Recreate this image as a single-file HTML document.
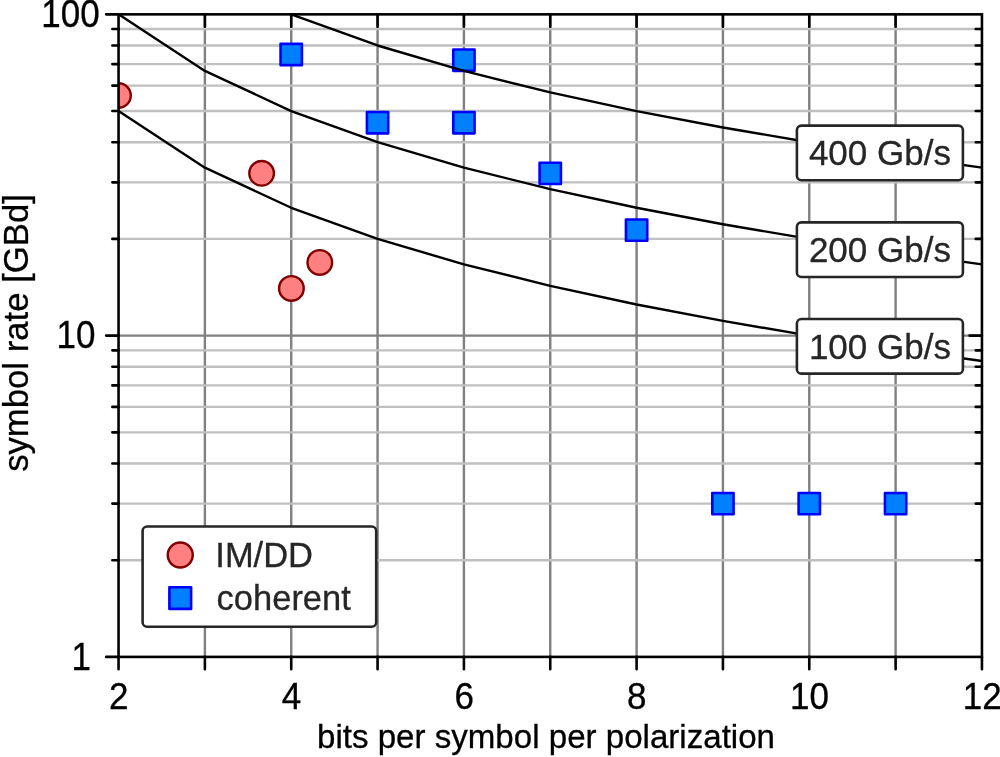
<!DOCTYPE html>
<html><head><meta charset="utf-8"><title>chart</title><style>html,body{margin:0;padding:0;background:#fff}svg{display:block}</style></head><body>
<svg width="1000" height="757" viewBox="0 0 1000 757" font-family="Liberation Sans, Arial, sans-serif">
<rect width="1000" height="757" fill="#fff"/>
<path d="M204.89 14.35V656.9M291.23 14.35V656.9M377.57 14.35V656.9M463.91 14.35V656.9M550.25 14.35V656.9M636.59 14.35V656.9M722.93 14.35V656.9M809.27 14.35V656.9M895.61 14.35V656.9M118.55 335.62H981.95" stroke="#808080" stroke-width="2.4" fill="none"/>
<path d="M118.55 560.19H981.95M118.55 503.61H981.95M118.55 463.47H981.95M118.55 432.34H981.95M118.55 406.90H981.95M118.55 385.39H981.95M118.55 366.76H981.95M118.55 350.33H981.95M118.55 238.91H981.95M118.55 182.34H981.95M118.55 142.20H981.95M118.55 111.06H981.95M118.55 85.62H981.95M118.55 64.12H981.95M118.55 45.48H981.95M118.55 29.05H981.95" stroke="#c0c0c0" stroke-width="2.4" fill="none"/>
<clipPath id="c"><rect x="118.55" y="14.35" width="863.4000000000001" height="642.55"/></clipPath>
<g clip-path="url(#c)">
<circle cx="118.50" cy="95.50" r="12.3" fill="#ff8080" stroke="#800000" stroke-width="2.4"/>
<circle cx="261.60" cy="173.30" r="12.3" fill="#ff8080" stroke="#800000" stroke-width="2.4"/>
<circle cx="291.40" cy="288.40" r="12.3" fill="#ff8080" stroke="#800000" stroke-width="2.4"/>
<circle cx="319.80" cy="262.40" r="12.3" fill="#ff8080" stroke="#800000" stroke-width="2.4"/>
</g>
<rect x="280.58" y="43.84" width="21.3" height="21.3" fill="#0080ff" stroke="#0000ff" stroke-width="2.6" stroke-linejoin="round"/>
<rect x="366.92" y="112.05" width="21.3" height="21.3" fill="#0080ff" stroke="#0000ff" stroke-width="2.6" stroke-linejoin="round"/>
<rect x="453.26" y="49.54" width="21.3" height="21.3" fill="#0080ff" stroke="#0000ff" stroke-width="2.6" stroke-linejoin="round"/>
<rect x="453.26" y="112.05" width="21.3" height="21.3" fill="#0080ff" stroke="#0000ff" stroke-width="2.6" stroke-linejoin="round"/>
<rect x="539.60" y="162.68" width="21.3" height="21.3" fill="#0080ff" stroke="#0000ff" stroke-width="2.6" stroke-linejoin="round"/>
<rect x="625.94" y="219.47" width="21.3" height="21.3" fill="#0080ff" stroke="#0000ff" stroke-width="2.6" stroke-linejoin="round"/>
<rect x="712.28" y="492.96" width="21.3" height="21.3" fill="#0080ff" stroke="#0000ff" stroke-width="2.6" stroke-linejoin="round"/>
<rect x="798.62" y="492.96" width="21.3" height="21.3" fill="#0080ff" stroke="#0000ff" stroke-width="2.6" stroke-linejoin="round"/>
<rect x="884.96" y="492.96" width="21.3" height="21.3" fill="#0080ff" stroke="#0000ff" stroke-width="2.6" stroke-linejoin="round"/>
<polyline points="118.55,111.06 204.89,167.64 291.23,207.78 377.57,238.91 463.91,264.35 550.25,285.86 636.59,304.49 722.93,320.92 809.27,335.62 895.61,348.92 981.95,361.06" stroke="#000" stroke-width="2.4" fill="none" stroke-linejoin="round"/>
<polyline points="118.55,14.35 204.89,70.92 291.23,111.06 377.57,142.20 463.91,167.64 550.25,189.15 636.59,207.78 722.93,224.21 809.27,238.91 895.61,252.21 981.95,264.35" stroke="#000" stroke-width="2.4" fill="none" stroke-linejoin="round"/>
<polyline points="291.23,14.35 377.57,45.48 463.91,70.92 550.25,92.43 636.59,111.06 722.93,127.50 809.27,142.20 895.61,155.50 981.95,167.64" stroke="#000" stroke-width="2.4" fill="none" stroke-linejoin="round"/>
<path d="M118.55 656.9v12.4M204.89 656.9v12.4M204.89 14.35v12.4M291.23 656.9v12.4M291.23 14.35v12.4M377.57 656.9v12.4M377.57 14.35v12.4M463.91 656.9v12.4M463.91 14.35v12.4M550.25 656.9v12.4M550.25 14.35v12.4M636.59 656.9v12.4M636.59 14.35v12.4M722.93 656.9v12.4M722.93 14.35v12.4M809.27 656.9v12.4M809.27 14.35v12.4M895.61 656.9v12.4M895.61 14.35v12.4M981.95 656.9v12.4M118.55 656.90h-12.4M118.55 335.62h-12.4M118.55 14.35h-12.4M118.55 560.19h-6.2M981.95 560.19h-6.2M118.55 503.61h-6.2M981.95 503.61h-6.2M118.55 463.47h-6.2M981.95 463.47h-6.2M118.55 432.34h-6.2M981.95 432.34h-6.2M118.55 406.90h-6.2M981.95 406.90h-6.2M118.55 385.39h-6.2M981.95 385.39h-6.2M118.55 366.76h-6.2M981.95 366.76h-6.2M118.55 350.33h-6.2M981.95 350.33h-6.2M118.55 238.91h-6.2M981.95 238.91h-6.2M118.55 182.34h-6.2M981.95 182.34h-6.2M118.55 142.20h-6.2M981.95 142.20h-6.2M118.55 111.06h-6.2M981.95 111.06h-6.2M118.55 85.62h-6.2M981.95 85.62h-6.2M118.55 64.12h-6.2M981.95 64.12h-6.2M118.55 45.48h-6.2M981.95 45.48h-6.2M118.55 29.05h-6.2M981.95 29.05h-6.2M981.95 335.62h-12.4" stroke="#000" stroke-width="2.6" stroke-linecap="round" fill="none"/>
<rect x="118.55" y="14.35" width="863.40" height="642.55" fill="none" stroke="#000" stroke-width="2.6"/>
<text transform="translate(118.75,708.60) scale(1,1.08)" font-size="35" text-anchor="middle" fill="#000" stroke="#000" stroke-width="0.3">2</text>
<text transform="translate(291.43,708.60) scale(1,1.08)" font-size="35" text-anchor="middle" fill="#000" stroke="#000" stroke-width="0.3">4</text>
<text transform="translate(464.11,708.60) scale(1,1.08)" font-size="35" text-anchor="middle" fill="#000" stroke="#000" stroke-width="0.3">6</text>
<text transform="translate(636.79,708.60) scale(1,1.08)" font-size="35" text-anchor="middle" fill="#000" stroke="#000" stroke-width="0.3">8</text>
<text transform="translate(809.47,708.60) scale(1,1.08)" font-size="35" text-anchor="middle" fill="#000" stroke="#000" stroke-width="0.3">10</text>
<text transform="translate(982.15,708.60) scale(1,1.08)" font-size="35" text-anchor="middle" fill="#000" stroke="#000" stroke-width="0.3">12</text>
<text transform="translate(71.50,669.60) scale(1,1.085)" font-size="35" fill="#000" stroke="#000" stroke-width="0.3">1</text>
<text transform="translate(56.50,348.32) scale(1,1.085)" font-size="35" fill="#000" stroke="#000" stroke-width="0.3">10</text>
<text transform="translate(41.30,27.05) scale(1,1.085)" font-size="35" fill="#000" stroke="#000" stroke-width="0.3">100</text>
<text transform="translate(546.00,747.60) scale(1,0.985)" font-size="33.1" text-anchor="middle" fill="#000" stroke="#000" stroke-width="0.3">bits per symbol per polarization</text>
<text transform="translate(28.00,333.00) rotate(-90) scale(1,0.985)" font-size="34.7" text-anchor="middle" fill="#000" stroke="#000" stroke-width="0.3">symbol rate [GBd]</text>
<rect x="796.9" y="125.62" width="166.0" height="54.6" rx="4.5" fill="#fff" stroke="#262626" stroke-width="2.6"/>
<text transform="translate(879.90,165.42) scale(1,1.02)" font-size="35" text-anchor="middle" fill="#262626" stroke="#262626" stroke-width="0.3">400 Gb/s</text>
<rect x="796.9" y="222.33" width="166.0" height="54.6" rx="4.5" fill="#fff" stroke="#262626" stroke-width="2.6"/>
<text transform="translate(879.90,262.13) scale(1,1.02)" font-size="35" text-anchor="middle" fill="#262626" stroke="#262626" stroke-width="0.3">200 Gb/s</text>
<rect x="796.9" y="319.05" width="166.0" height="54.6" rx="4.5" fill="#fff" stroke="#262626" stroke-width="2.6"/>
<text transform="translate(879.90,358.85) scale(1,1.02)" font-size="35" text-anchor="middle" fill="#262626" stroke="#262626" stroke-width="0.3">100 Gb/s</text>
<rect x="142.6" y="526.5" width="233.6" height="100.2" rx="4.5" fill="#fff" stroke="#262626" stroke-width="2.6"/>
<circle cx="180.25" cy="555" r="12.5" fill="#ff8080" stroke="#800000" stroke-width="2.4"/>
<rect x="169.4" y="587.2" width="21.7" height="21.7" fill="#0080ff" stroke="#0000ff" stroke-width="2.6" stroke-linejoin="round"/>
<text transform="translate(215.30,567.20) scale(1,1.02)" font-size="34.5" fill="#262626" stroke="#262626" stroke-width="0.3">IM/DD</text>
<text transform="translate(216.60,609.50) scale(1,0.99)" font-size="34.5" fill="#262626" stroke="#262626" stroke-width="0.3">coherent</text>
</svg>
</body></html>
